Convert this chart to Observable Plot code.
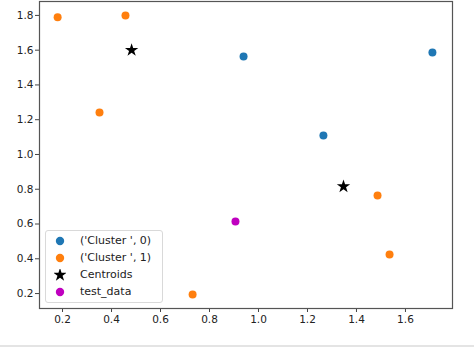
<!DOCTYPE html>
<html>
<head>
<meta charset="utf-8">
<script src="https://cdn.jsdelivr.net/npm/d3@7"></script>
<script src="https://cdn.jsdelivr.net/npm/@observablehq/plot@0.6"></script>
<style>
  html, body { margin: 0; padding: 0; background: #fff; }
  #wrap { position: relative; width: 474px; height: 354px; font-family: "DejaVu Sans", sans-serif; }
  #legend { position: absolute; left: 45px; top: 230px; width: 116px; padding: 1px 0 2px 0;
    border: 1px solid #d9d9d9; border-radius: 3px; background: rgba(255,255,255,0.8);
    font-size: 11px; color: #222; }
  .row { display: flex; align-items: center; height: 17px; }
  .row svg { margin-left: 8px; margin-right: 14px; }
  #rule { position: absolute; left: 0; top: 345px; width: 474px; height: 0; border-top: 2px solid #e4e4e4; }
</style>
</head>
<body>
<div id="wrap"></div>
<script>
// Data
const cluster0X = [0.939, 1.710, 1.265];
const cluster0Y = [1.564, 1.587, 1.109];
const cluster1X = [0.180, 0.457, 0.351, 0.731, 1.486, 1.535];
const cluster1Y = [1.789, 1.800, 1.242, 0.194, 0.764, 0.424];
const centroidX = [0.482, 1.347];
const centroidY = [1.600, 0.816];
const testX = [0.906];
const testY = [0.614];
const xTicks = [0.2, 0.4, 0.6, 0.8, 1.0, 1.2, 1.4, 1.6];
const yTicks = [0.2, 0.4, 0.6, 0.8, 1.0, 1.2, 1.4, 1.6, 1.8];
const seriesNames = ["('Cluster ', 0)", "('Cluster ', 1)", "Centroids", "test_data"];
const seriesColors = ["#1f77b4", "#ff7f0e", "#000000", "#bf00bf"];
const seriesSymbols = ["circle", "circle", "star", "circle"];

const toRows = (xs, ys) => xs.map((x, i) => ({x, y: ys[i]}));
const c0 = toRows(cluster0X, cluster0Y);
const c1 = toRows(cluster1X, cluster1Y);
const cen = toRows(centroidX, centroidY);
const test = toRows(testX, testY);

const fmt = d3.format(".1f");

const chart = Plot.plot({
  width: 474,
  height: 354,
  marginLeft: 39,
  marginRight: 22,
  marginTop: 1,
  marginBottom: 46,
  style: { fontFamily: "DejaVu Sans, sans-serif", fontSize: "10px", color: "#222", background: "#fff" },
  x: { domain: [0.106, 1.792], label: null },
  y: { domain: [0.114, 1.880], label: null },
  marks: [
    Plot.axisX({ ticks: xTicks, tickFormat: fmt, tickSize: 4, tickPadding: 3, stroke: "#444", fontSize: 10.5 }),
    Plot.axisY({ ticks: yTicks, tickFormat: fmt, tickSize: 4, tickPadding: 2, stroke: "#444", fontSize: 10.5 }),
    Plot.dot(c0, { x: "x", y: "y", r: 4, fill: seriesColors[0], stroke: null }),
    Plot.dot(c1, { x: "x", y: "y", r: 4, fill: seriesColors[1], stroke: null }),
    Plot.dot(cen, { x: "x", y: "y", r: 4.2, symbol: "star", fill: seriesColors[2], stroke: null }),
    Plot.dot(test, { x: "x", y: "y", r: 4, fill: seriesColors[3], stroke: null }),
    Plot.frame({ stroke: "#555", strokeWidth: 1.2 })
  ]
});

const wrap = document.getElementById("wrap");
wrap.appendChild(chart);

// Legend (inside the axes, lower left)
const legend = document.createElement("div");
legend.id = "legend";
seriesNames.forEach((name, i) => {
  const row = document.createElement("div");
  row.className = "row";
  const size = seriesSymbols[i] === "star" ? 55 : 55;
  const sym = seriesSymbols[i] === "star" ? d3.symbolStar : d3.symbolCircle;
  const svg = d3.create("svg").attr("width", 12).attr("height", 12);
  svg.append("path").attr("transform", "translate(6,6)")
    .attr("d", d3.symbol(sym, size)()).attr("fill", seriesColors[i]);
  row.appendChild(svg.node());
  const span = document.createElement("span");
  span.textContent = name;
  row.appendChild(span);
  legend.appendChild(row);
});
wrap.appendChild(legend);

const rule = document.createElement("div");
rule.id = "rule";
wrap.appendChild(rule);
</script>
</body>
</html>
